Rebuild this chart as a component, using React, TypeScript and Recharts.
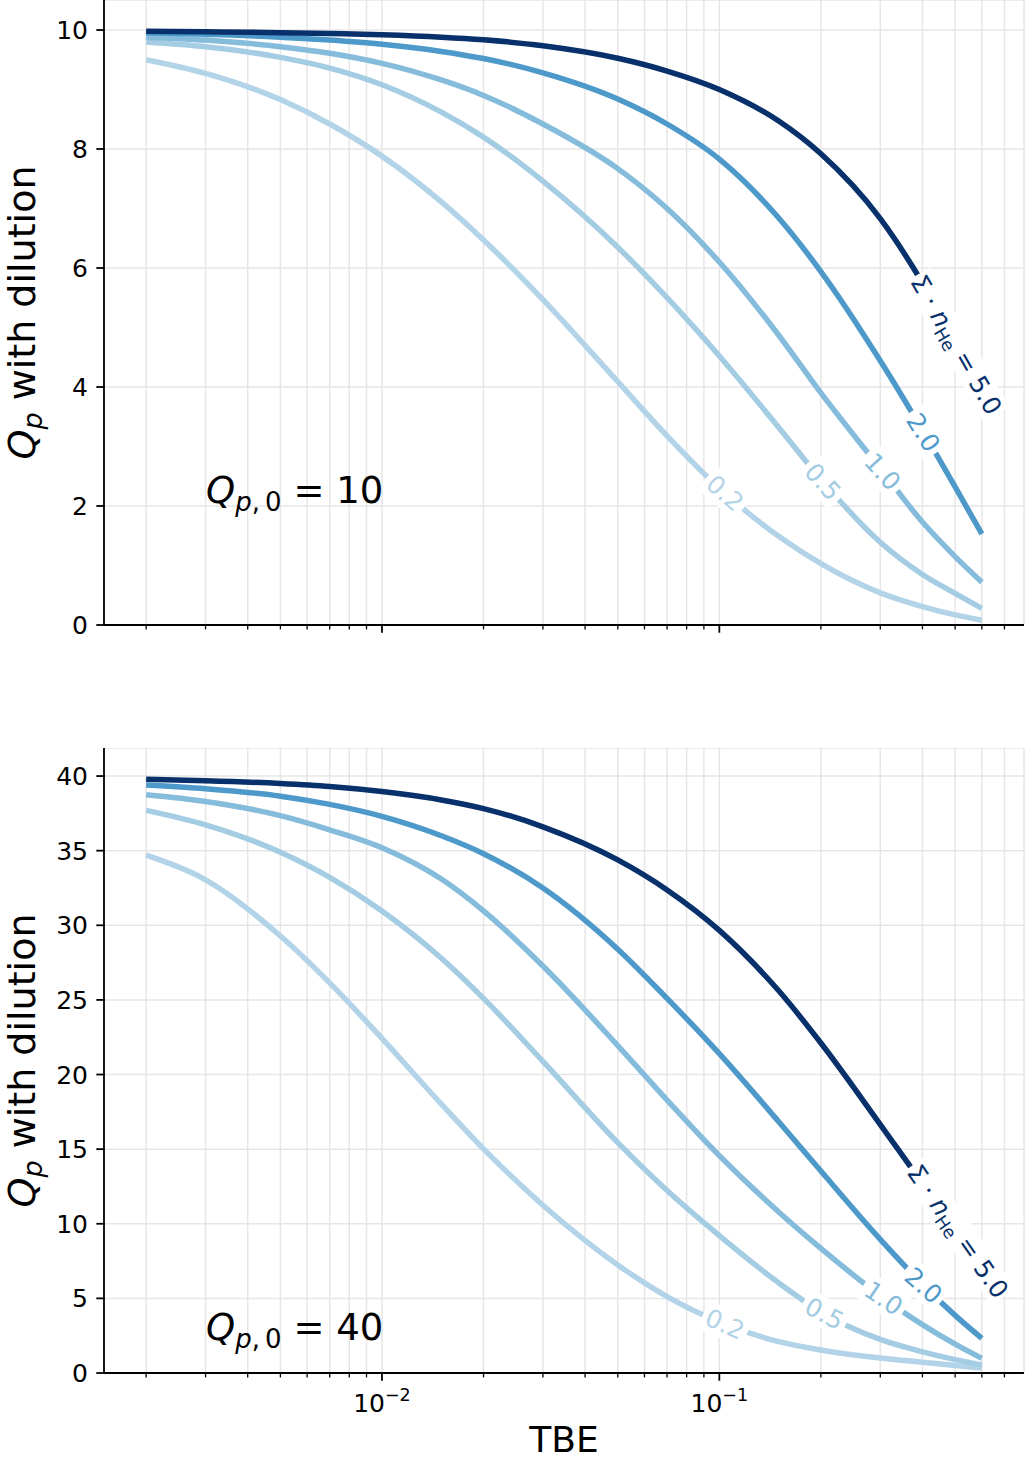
import { LineChart, Line, XAxis, YAxis, CartesianGrid, ReferenceDot } from 'recharts';

const FONT = '"DejaVu Sans", sans-serif';

// TBE sample points (log axis)
const tbe = [0.002, 0.003, 0.005, 0.007, 0.01, 0.015, 0.02, 0.03, 0.05, 0.07, 0.1, 0.15, 0.2, 0.3, 0.4, 0.5, 0.6];

// Σ·n_He levels, light -> dark
const levels = ['0.2', '0.5', '1.0', '2.0', '5.0'];
const levelColors = ['#b3d3e8', '#a4cce3', '#85bcdc', '#4d99ca', '#08306b'];

// Q_p,0 = 10
const q10n02 = [9.5, 9.27, 8.83, 8.42, 7.88, 7.11, 6.47, 5.47, 4.09, 3.18, 2.3, 1.49, 1.03, 0.54, 0.31, 0.17, 0.08];
const q10n05 = [9.8, 9.72, 9.54, 9.36, 9.08, 8.62, 8.2, 7.46, 6.35, 5.5, 4.52, 3.32, 2.45, 1.39, 0.85, 0.53, 0.28];
const q10n10 = [9.88, 9.83, 9.72, 9.61, 9.44, 9.16, 8.9, 8.42, 7.67, 7.0, 6.1, 4.87, 3.9, 2.63, 1.73, 1.15, 0.72];
const q10n20 = [9.95, 9.93, 9.88, 9.83, 9.76, 9.64, 9.52, 9.28, 8.84, 8.42, 7.83, 6.84, 5.94, 4.44, 3.27, 2.32, 1.53];
const q10n50 = [9.98, 9.97, 9.955, 9.94, 9.92, 9.88, 9.835, 9.735, 9.525, 9.31, 9.0, 8.47, 7.92, 6.83, 5.75, 4.76, 3.89];

// Q_p,0 = 40
const q40n02 = [34.7, 33.05, 29.28, 26.14, 22.42, 18.02, 15.02, 11.24, 7.24, 5.12, 3.42, 2.1, 1.54, 1.0, 0.72, 0.5, 0.33];
const q40n05 = [37.7, 36.73, 34.89, 33.21, 30.96, 27.79, 25.1, 20.88, 15.44, 12.23, 9.21, 6.04, 4.1, 2.25, 1.42, 0.9, 0.54];
const q40n10 = [38.75, 38.3, 37.35, 36.4, 35.2, 33.1, 30.97, 27.27, 21.94, 18.29, 14.57, 10.79, 8.35, 5.18, 3.24, 1.93, 0.98];
const q40n20 = [39.4, 39.15, 38.65, 38.1, 37.3, 36.0, 34.8, 32.5, 28.4, 25.1, 21.4, 16.84, 13.53, 8.95, 5.95, 3.86, 2.32];
const q40n50 = [39.78, 39.69, 39.5, 39.3, 38.96, 38.4, 37.82, 36.6, 34.38, 32.37, 29.66, 25.61, 22.11, 16.65, 12.71, 9.75, 7.46];

const xMajor = [0.01, 0.1];
const xTicks = [
  0.002, 0.003, 0.004, 0.005, 0.006, 0.007, 0.008, 0.009, 0.01,
  0.02, 0.03, 0.04, 0.05, 0.06, 0.07, 0.08, 0.09, 0.1,
  0.2, 0.3, 0.4, 0.5, 0.6, 0.7,
];
const yTicks10 = [0, 2, 4, 6, 8, 10];
const yTicks40 = [0, 5, 10, 15, 20, 25, 30, 35, 40];

// where the inline level labels sit along each curve (TBE) and their tilt
const labelTbe10 = [0.104, 0.203, 0.305, 0.403, 0.505];
const labelAngle10 = [41, 48, 48, 58, 60];
const labelTbe40 = [0.104, 0.205, 0.307, 0.403, 0.51];
const labelAngle40 = [24, 28, 34, 41, 55];

const keys = ['n02', 'n05', 'n10', 'n20', 'n50'];

const buildRows = (series: number[][]) =>
  tbe.map((t, i) => {
    const row: Record<string, number> = { tbe: t };
    series.forEach((s, k) => (row[keys[k]] = s[i]));
    return row;
  });

const interpAt = (ys: number[], x: number) => {
  for (let i = 0; i < tbe.length - 1; i++) {
    if (x >= tbe[i] && x <= tbe[i + 1]) {
      const t = (Math.log(x) - Math.log(tbe[i])) / (Math.log(tbe[i + 1]) - Math.log(tbe[i]));
      return ys[i] + t * (ys[i + 1] - ys[i]);
    }
  }
  return ys[ys.length - 1];
};

const TICK_FS = 25;

const XTick = (props: any) => {
  const { x, y, payload, showLabel } = props;
  const v = payload.value;
  const major = xMajor.includes(v);
  return (
    <g>
      <line x1={x} x2={x} y1={y} y2={y + (major ? 7.7 : 4.4)} stroke="#000" strokeWidth={major ? 1.8 : 1.3} />
      {showLabel && major && (
        <text x={x} y={y + 39} textAnchor="middle" fontSize={TICK_FS} fontFamily={FONT} fill="#000">
          10<tspan dy={-11} fontSize={17.5}>{v === 0.01 ? '−2' : '−1'}</tspan>
        </text>
      )}
    </g>
  );
};

const YTick = (props: any) => {
  const { x, y, payload } = props;
  return (
    <g>
      <line x1={x - 7.7} x2={x} y1={y} y2={y} stroke="#000" strokeWidth={1.8} />
      <text x={x - 16} y={y + 9} textAnchor="end" fontSize={TICK_FS} fontFamily={FONT} fill="#000">
        {payload.value}
      </text>
    </g>
  );
};

const LevelLabel = ({ cx, cy, angle, color, level }: any) => {
  const long = level === '5.0';
  const w = long ? 160 : 48;
  return (
    <g transform={`translate(${cx},${cy}) rotate(${angle})`}>
      <rect x={-w / 2} y={-15} width={w} height={30} fill="#fff" />
      <text x={0} y={9} textAnchor="middle" fontSize={TICK_FS} fontFamily={FONT} fill={color}>
        {long ? (
          <>
            Σ · <tspan fontStyle="italic">n</tspan>
            <tspan dy={5} fontSize={17.5}>He</tspan>
            <tspan dy={-5}> = 5.0</tspan>
          </>
        ) : (
          level
        )}
      </text>
    </g>
  );
};

interface PanelProps {
  series: number[][];
  yMax: number;
  yTicks: number[];
  height: number;
  xAxisHeight: number;
  showXLabels: boolean;
  labelTbe: number[];
  labelAngle: number[];
}

const Panel = ({ series, yMax, yTicks, height, xAxisHeight, showXLabels, labelTbe, labelAngle }: PanelProps) => {
  const data = buildRows(series);
  return (
    <LineChart width={1027} height={height} data={data} margin={{ top: 0, right: 3, bottom: 0, left: 0 }}>
      <CartesianGrid stroke="#e6e6e6" strokeWidth={1.5} />
      <XAxis
        dataKey="tbe"
        type="number"
        scale="log"
        domain={[0.0015, 0.8]}
        allowDataOverflow
        ticks={xTicks}
        interval={0}
        height={xAxisHeight}
        tickSize={0}
        tickMargin={0}
        tickLine={false}
        axisLine={{ stroke: '#000', strokeWidth: 1.8 }}
        tick={(p: any) => <XTick {...p} showLabel={showXLabels} />}
      />
      <YAxis
        type="number"
        domain={[0, yMax]}
        allowDataOverflow
        ticks={yTicks}
        interval={0}
        width={104}
        tickSize={0}
        tickMargin={0}
        tickLine={false}
        axisLine={{ stroke: '#000', strokeWidth: 1.8 }}
        tick={(p: any) => <YTick {...p} />}
      />
      {keys.map((k, i) => (
        <Line
          key={k}
          type="monotone"
          dataKey={k}
          stroke={levelColors[i]}
          strokeWidth={5.5}
          dot={false}
          activeDot={false}
          isAnimationActive={false}
        />
      ))}
      {levels.map((lv, i) => (
        <ReferenceDot
          key={lv}
          x={labelTbe[i]}
          y={interpAt(series[i], labelTbe[i])}
          r={1}
          shape={(p: any) => (
            <LevelLabel cx={p.cx} cy={p.cy} angle={labelAngle[i]} color={levelColors[i]} level={lv} />
          )}
        />
      ))}
    </LineChart>
  );
};

const YLabel = ({ cy }: { cy: number }) => (
  <text transform={`translate(35, ${cy}) rotate(-90)`} textAnchor="middle" fontSize={38} fontFamily={FONT} fill="#000">
    <tspan fontStyle="italic">Q</tspan>
    <tspan fontStyle="italic" fontSize={27} dy={7}>p</tspan>
    <tspan dy={-7}> with dilution</tspan>
  </text>
);

const QAnnot = ({ y, value }: { y: number; value: number }) => (
  <text x={206} y={y} fontSize={37} fontFamily={FONT} fill="#000">
    <tspan fontStyle="italic">Q</tspan>
    <tspan fontStyle="italic" fontSize={26} dy={8}>p</tspan>
    <tspan fontSize={26}>,{'\u2009'}0</tspan>
    <tspan dy={-8}> = {value}</tspan>
  </text>
);

export default function App() {
  return (
    <div style={{ position: 'absolute', left: 0, top: 0, width: 1027, height: 1459, background: '#fff' }}>
      <div style={{ position: 'absolute', left: 0, top: 0 }}>
        <Panel
          series={[q10n02, q10n05, q10n10, q10n20, q10n50]}
          yMax={10.504}
          yTicks={yTicks10}
          height={645}
          xAxisHeight={20}
          showXLabels={false}
          labelTbe={labelTbe10}
          labelAngle={labelAngle10}
        />
      </div>
      <div style={{ position: 'absolute', left: 0, top: 748 }}>
        <Panel
          series={[q40n02, q40n05, q40n10, q40n20, q40n50]}
          yMax={41.88}
          yTicks={yTicks40}
          height={711}
          xAxisHeight={86}
          showXLabels
          labelTbe={labelTbe40}
          labelAngle={labelAngle40}
        />
      </div>
      <svg width={1027} height={1459} style={{ position: 'absolute', left: 0, top: 0, pointerEvents: 'none' }}>
        <YLabel cy={312.5} />
        <YLabel cy={1060.5} />
        <QAnnot y={503} value={10} />
        <QAnnot y={1340} value={40} />
        <text x={564} y={1452} textAnchor="middle" fontSize={36} fontFamily={FONT} fill="#000">
          TBE
        </text>
      </svg>
    </div>
  );
}
